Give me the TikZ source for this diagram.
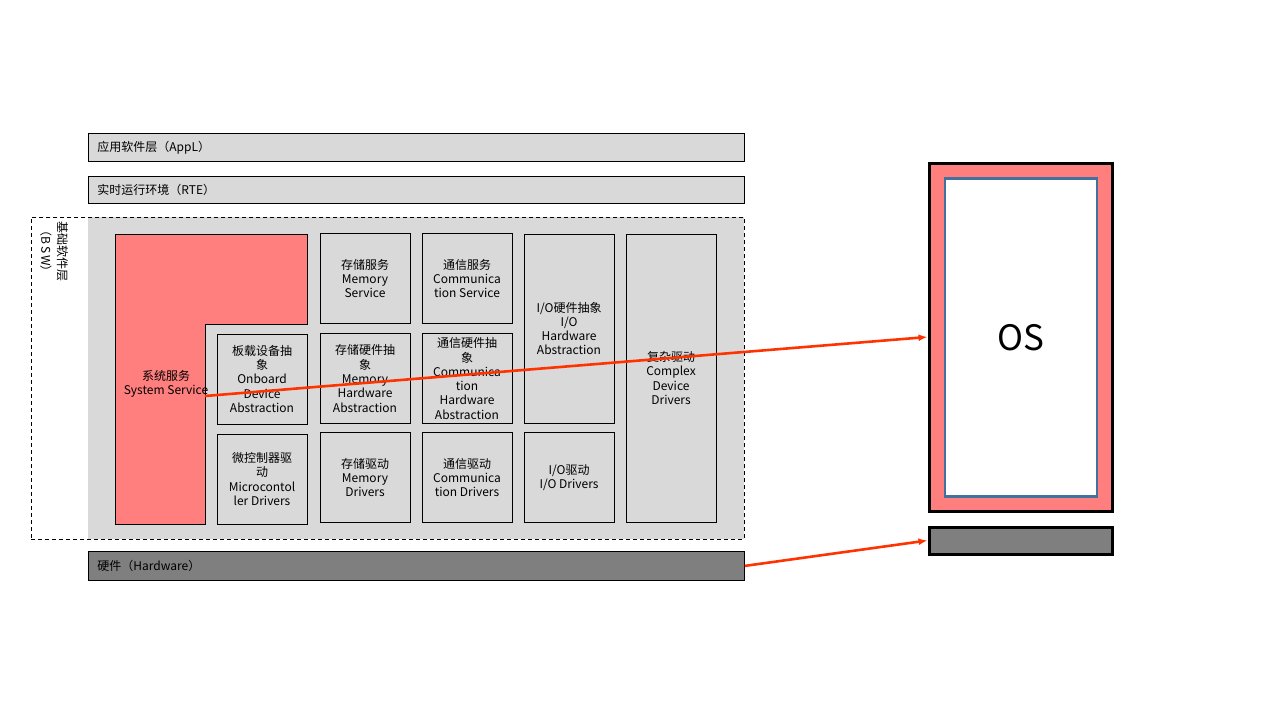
\documentclass[tikz,border=0pt]{standalone}
\usepackage{fontspec}
\newfontfamily\cjk{Noto Sans CJK SC}
\usetikzlibrary{arrows.meta}
\definecolor{layergray}{HTML}{D9D9D9}
\definecolor{hwgray}{HTML}{7F7F7F}
\definecolor{svcred}{HTML}{FF7F7F}
\definecolor{osblue}{HTML}{41719C}
\definecolor{linkred}{HTML}{FF3300}
\tikzset{
  txt/.style={font=\cjk\fontsize{12}{14.3}\selectfont, inner sep=0pt, align=center},
  modbox/.style={txt, draw, line width=0.8pt, fill=layergray, minimum width=90pt, minimum height=90pt},
  layerbar/.style={txt, draw, line width=0.8pt, fill=layergray, anchor=north west,
    minimum width=656pt, minimum height=28pt, text width=638pt, align=left},
  link/.style={draw=linkred, line width=2.6pt, -{Latex[length=9pt,width=7pt]}}
}
\begin{document}
\begin{tikzpicture}[x=1pt,y=-1pt]
\useasboundingbox (0,0) rectangle (1280,720);
% layers
\node[layerbar] (appl) at (88,133) {应用软件层（AppL）};
\node[layerbar, minimum height=27pt] (rte) at (88,176) {实时运行环境（RTE）};
\node[layerbar, fill=hwgray, minimum height=29pt] (hw) at (88,551) {硬件（Hardware）};
% basic software
\node[fill=layergray, anchor=north west, minimum width=656pt, minimum height=322pt, inner sep=0pt] (bswarea) at (88,217) {};
\node[draw, dash pattern=on 4pt off 3pt, line width=0.8pt, anchor=north west, minimum width=713pt, minimum height=322pt, inner sep=0pt] (bsw) at (31,217) {};
\node[txt, rotate=-90, font=\cjk\fontsize{12}{16.5}\selectfont] (bswlabel) at (54,251) {基础软件层\\（B\,S\,W）};
\draw[fill=svcred, line width=0.8pt] (115,234) -- (307,234) -- (307,324) -- (205,324) -- (205,524) -- (115,524) -- cycle;
\node[txt] (sys) at (166,383.5) {系统服务\\System Service};
\coordinate (sysport) at (205,396);
\node[modbox] (onboard) at (262,379) {板载设备抽\\象\\Onboard\\Device\\Abstraction};
\node[modbox] (micro) at (262,479) {微控制器驱\\动\\Microcontol\\ler Drivers};
\node[modbox] (memsvc) at (365,278.5) {存储服务\\Memory\\Service};
\node[modbox] (memhw) at (365,378.5) {存储硬件抽\\象\\Memory\\Hardware\\Abstraction};
\node[modbox] (memdrv) at (365,477.5) {存储驱动\\Memory\\Drivers};
\node[modbox] (comsvc) at (467,278.5) {通信服务\\Communica\\tion Service};
\node[modbox] (comhw) at (467,378.5) {通信硬件抽\\象\\Communica\\tion\\Hardware\\Abstraction};
\node[modbox] (comdrv) at (467,477.5) {通信驱动\\Communica\\tion Drivers};
\node[modbox, minimum height=189pt] (iohw) at (569,328.5) {I/O硬件抽象\\I/O\\Hardware\\Abstraction};
\node[modbox] (iodrv) at (569,477.5) {I/O驱动\\I/O Drivers};
\node[modbox, minimum height=288pt] (cdd) at (671,378) {复杂驱动\\Complex\\Device\\Drivers};
% OS side
\node[draw, line width=3pt, fill=svcred, minimum width=183pt, minimum height=348pt] (os) at (1020.5,337) {};
\node[txt, draw=osblue, line width=2.5pt, fill=white, minimum width=152pt, minimum height=318pt,
  font=\cjk\fontsize{35}{40}\selectfont] (oskern) at (1021,337.5) {OS};
\node[draw, line width=3pt, fill=hwgray, minimum width=183pt, minimum height=27pt] (oshw) at (1020.5,540.5) {};
% links
\draw[link] (sysport) -- (os.west);
\draw[link] (hw.east) -- (oshw.west);
\end{tikzpicture}
\end{document}
